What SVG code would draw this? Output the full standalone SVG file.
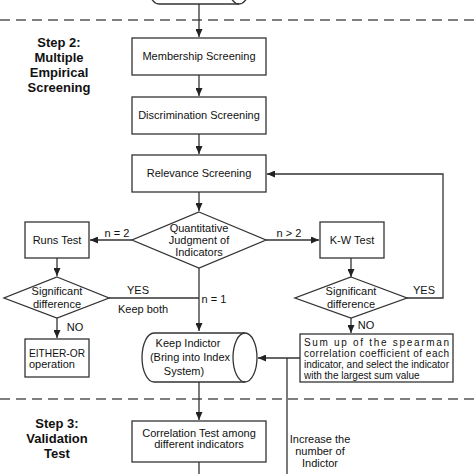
<svg xmlns="http://www.w3.org/2000/svg" width="474" height="474" viewBox="0 0 474 474">
<defs>
<marker id="ah" markerWidth="8" markerHeight="7" refX="8" refY="3.5" orient="auto" markerUnits="userSpaceOnUse">
<path d="M0,0 L8,3.5 L0,7 z" fill="#222"/>
</marker>
<style>
.box{fill:#fff;stroke:#333;stroke-width:1.3}
.ln{fill:none;stroke:#333;stroke-width:1.3}
.arr{fill:none;stroke:#333;stroke-width:1.3;marker-end:url(#ah)}
.dash{fill:none;stroke:#555;stroke-width:1.5;stroke-dasharray:10 6}
.t{font-family:"Liberation Sans",Arial,sans-serif;font-size:11px;fill:#111;text-anchor:middle}
.s{font-family:"Liberation Sans",Arial,sans-serif;font-size:13px;font-weight:bold;fill:#111;text-anchor:middle}
.j{font-family:"Liberation Sans",Arial,sans-serif;font-size:10px;fill:#111}
</style>
</defs>
<rect width="474" height="474" fill="#fff"/>
<line class="dash" x1="0" y1="20" x2="474" y2="20"/>
<line class="dash" x1="0" y1="399" x2="474" y2="399"/>
<g id="step2label">
<text class="s" x="59" y="47">Step 2:</text>
<text class="s" x="59" y="62">Multiple</text>
<text class="s" x="59" y="77">Empirical</text>
<text class="s" x="59" y="92">Screening</text>
</g>
<g id="step3label">
<text class="s" x="57" y="428">Step 3:</text>
<text class="s" x="57" y="443">Validation</text>
<text class="s" x="57" y="458">Test</text>
</g>
<g id="connectors">
<line class="arr" x1="199" y1="4" x2="199" y2="37"/>
<line class="arr" x1="199" y1="75" x2="199" y2="96"/>
<line class="arr" x1="199" y1="134" x2="199" y2="154"/>
<line class="arr" x1="199" y1="192" x2="199" y2="211"/>
<line class="arr" x1="132" y1="240" x2="90" y2="240"/>
<line class="arr" x1="266" y1="240" x2="319" y2="240"/>
<line class="arr" x1="57" y1="258" x2="57" y2="276"/>
<line class="arr" x1="351" y1="258" x2="351" y2="277"/>
<line class="ln" x1="109" y1="298" x2="199" y2="298"/>
<line class="arr" x1="199" y1="268" x2="199" y2="331"/>
<line class="arr" x1="57" y1="318" x2="57" y2="338"/>
<line class="arr" x1="351" y1="318" x2="351" y2="333"/>
<polyline class="arr" points="407,298 443,298 443,174 267,174"/>
<line class="arr" x1="300" y1="358" x2="258" y2="358"/>
<line class="ln" x1="287" y1="358" x2="287" y2="474"/>
<line class="arr" x1="199" y1="382" x2="199" y2="420"/>
<line class="ln" x1="199" y1="462" x2="199" y2="474"/>
<text class="t" x="117" y="237">n = 2</text>
<text class="t" x="289" y="237">n &gt; 2</text>
<text class="t" x="138" y="294">YES</text>
<text class="t" x="143" y="313">Keep both</text>
<text class="t" x="214" y="303">n = 1</text>
<text class="t" x="75" y="331">NO</text>
<text class="t" x="366" y="329">NO</text>
<text class="t" x="424" y="294">YES</text>
<text class="t" x="320" y="443">Increase the</text>
<text class="t" x="320" y="455">number of</text>
<text class="t" x="320" y="467">Indictor</text>
</g>
<g id="topnode">
<path class="box" d="M159,-44 L239,-44 A12,24 0 0 1 239,4 L159,4 A12,24 0 0 1 159,-44 Z"/>
<path class="ln" d="M239,-44 A12,24 0 0 0 239,4"/>
</g>
<g id="membership">
<rect class="box" x="132" y="38" width="134" height="37"/>
<text class="t" x="199" y="60">Membership Screening</text>
</g>
<g id="discrimination">
<rect class="box" x="132" y="97" width="134" height="37"/>
<text class="t" x="199" y="119">Discrimination Screening</text>
</g>
<g id="relevance">
<rect class="box" x="132" y="155" width="134" height="37"/>
<text class="t" x="199" y="177">Relevance Screening</text>
</g>
<g id="quant">
<polygon class="box" points="199,212 266,240 199,268 132,240"/>
<text class="t" x="199" y="232">Quantitative</text>
<text class="t" x="199" y="244">Judgment of</text>
<text class="t" x="199" y="256">Indicators</text>
</g>
<g id="runs">
<rect class="box" x="25" y="222" width="64" height="36"/>
<text class="t" x="57" y="244">Runs Test</text>
</g>
<g id="kw">
<rect class="box" x="320" y="222" width="64" height="36"/>
<text class="t" x="352" y="244">K-W Test</text>
</g>
<g id="sigleft">
<polygon class="box" points="57,277 109,298 57,318 4,298"/>
<text class="t" x="57" y="295">Significant</text>
<text class="t" x="57" y="308">difference</text>
</g>
<g id="sigright">
<polygon class="box" points="351,277 407,298 351,318 295,298"/>
<text class="t" x="351" y="295">Significant</text>
<text class="t" x="351" y="308">difference</text>
</g>
<g id="eitheror">
<rect class="box" x="25" y="339" width="64" height="38"/>
<text class="t" x="29" y="357" style="text-anchor:start" textLength="56" lengthAdjust="spacingAndGlyphs">EITHER-OR</text>
<text class="t" x="29" y="368" style="text-anchor:start">operation</text>
</g>
<g id="keep">
<path class="box" d="M154,333 L245,333 A12,24.5 0 0 1 245,382 L154,382 A12,24.5 0 0 1 154,333 Z"/>
<path class="ln" d="M245,333 A12,24.5 0 0 0 245,382"/>
<text class="t" x="188" y="347">Keep Indictor</text>
<text class="t" x="190" y="361">(Bring into Index</text>
<text class="t" x="184" y="375">System)</text>
</g>
<g id="sumup">
<rect class="box" x="300" y="334" width="153" height="48"/>
<text class="j" x="304" y="346" textLength="145" lengthAdjust="spacing">Sum up of the spearman</text>
<text class="j" x="304" y="357" textLength="145" lengthAdjust="spacing">correlation coefficient of each</text>
<text class="j" x="304" y="368" textLength="145" lengthAdjust="spacing">indicator, and select the indicator</text>
<text class="j" x="304" y="379">with the largest sum value</text>
</g>
<g id="correlation">
<rect class="box" x="132" y="421" width="134" height="41"/>
<text class="t" x="199" y="437">Correlation Test among</text>
<text class="t" x="199" y="448">different indicators</text>
</g>
</svg>
